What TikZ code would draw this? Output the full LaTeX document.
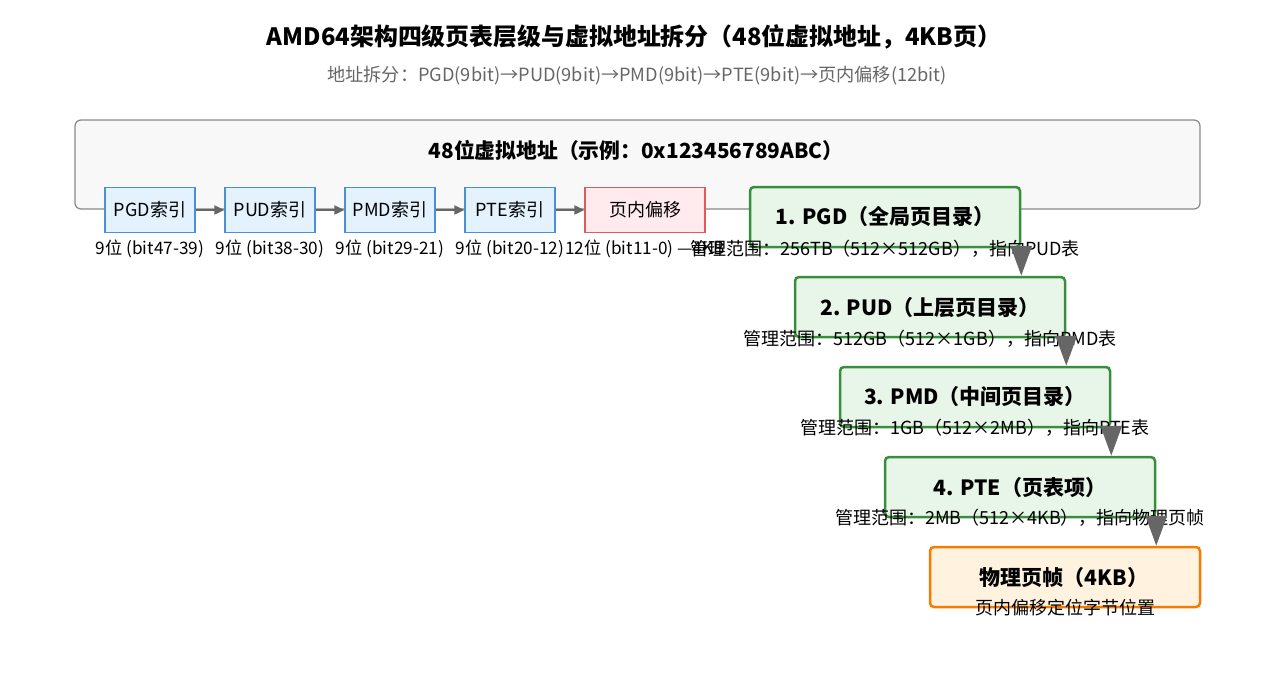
\documentclass[tikz,border=0pt]{standalone}
\usepackage{fontspec}
\setmainfont{Noto Sans CJK SC}
\usetikzlibrary{arrows.meta}
\definecolor{contfill}{HTML}{F8F8F8}
\definecolor{contline}{HTML}{888888}
\definecolor{idxfill}{HTML}{E3F2FD}
\definecolor{idxline}{HTML}{4A90D9}
\definecolor{offfill}{HTML}{FFEBEE}
\definecolor{offline}{HTML}{E05A5A}
\definecolor{lvlfill}{HTML}{E8F5E9}
\definecolor{lvlline}{HTML}{388E3C}
\definecolor{physfill}{HTML}{FFF3E0}
\definecolor{physline}{HTML}{F57C00}
\definecolor{arrgray}{HTML}{666666}
\definecolor{subgray}{HTML}{666666}
\tikzset{
  idxbox/.style={draw=idxline, fill=idxfill, line width=1.2pt, minimum width=90pt, minimum height=45pt, inner sep=0pt, font=\fontsize{18}{21}\selectfont},
  offbox/.style={draw=offline, fill=offfill, line width=1.2pt, minimum width=120pt, minimum height=45pt, inner sep=0pt, font=\fontsize{18}{21}\selectfont},
  lvlbox/.style={draw=lvlline, fill=lvlfill, line width=2.5pt, rounded corners=4pt, minimum width=270pt, minimum height=60pt, inner sep=0pt},
  physbox/.style={draw=physline, fill=physfill, line width=2.5pt, rounded corners=4pt, minimum width=270pt, minimum height=60pt, inner sep=0pt},
  lvltitle/.style={font=\fontsize{21}{25}\selectfont\bfseries, inner sep=0pt},
  lvlnote/.style={font=\fontsize{18}{21}\selectfont, inner sep=0pt},
  bitnote/.style={font=\fontsize{17.2}{20}\selectfont, inner sep=0pt},
  smallarr/.style={draw=arrgray, line width=1.8pt, -{Triangle[width=9pt,length=10pt]}},
  bigarr/.style={draw=arrgray, line width=3pt, -{Triangle[width=21pt,length=30pt]}}
}
\begin{document}
\begin{tikzpicture}[x=1pt,y=-1pt]
\useasboundingbox (0,0) rectangle (1275,675);
% title
\node[font=\fontsize{23.9}{28}\selectfont\bfseries, inner sep=0pt] (title) at (634,37) {AMD64架构四级页表层级与虚拟地址拆分（48位虚拟地址，4KB页）};
\node[font=\fontsize{18.2}{21}\selectfont, text=subgray, inner sep=0pt] (subtitle) at (637,76) {地址拆分：PGD(9bit)→PUD(9bit)→PMD(9bit)→PTE(9bit)→页内偏移(12bit)};
% container
\node[draw=contline, fill=contfill, line width=1.2pt, rounded corners=6pt, minimum width=1125pt, minimum height=89pt, inner sep=0pt] (cont) at (637.5,164.5) {};
\node[font=\fontsize{20.8}{24}\selectfont\bfseries, inner sep=0pt] (conttitle) at (636,150) {48位虚拟地址（示例：0x123456789ABC）};
% index boxes
\node[idxbox] (pgdi) at (150,210) {PGD索引};
\node[idxbox] (pudi) at (270,210) {PUD索引};
\node[idxbox] (pmdi) at (390,210) {PMD索引};
\node[idxbox] (ptei) at (510,210) {PTE索引};
\node[offbox] (offi) at (645,210) {页内偏移};
\draw[smallarr] (pgdi.east) -- (pudi.west);
\draw[smallarr] (pudi.east) -- (pmdi.west);
\draw[smallarr] (pmdi.east) -- (ptei.west);
\draw[smallarr] (ptei.east) -- (offi.west);
\node[bitnote] (b1) at (150,249) {9位 (bit47-39)};
\node[bitnote] (b2) at (270,249) {9位 (bit38-30)};
\node[bitnote] (b3) at (390,249) {9位 (bit29-21)};
\node[bitnote] (b4) at (510,249) {9位 (bit20-12)};
\node[bitnote] (b5) at (645,249) {12位 (bit11-0) —4KB};
% levels
\node[lvlbox] (pgd) at (885,217) {};
\node[lvltitle] at (885,217) {1. PGD（全局页目录）};
\node[lvlnote] (pgdn) at (885,249) {管理范围：256TB（512×512GB），指向PUD表};
\node[lvlbox] (pud) at (930,307) {};
\node[lvltitle] at (930,308) {2. PUD（上层页目录）};
\node[lvlnote] (pudn) at (930,339) {管理范围：512GB（512×1GB），指向PMD表};
\node[lvlbox] (pmd) at (975,397) {};
\node[lvltitle] at (975,397) {3. PMD（中间页目录）};
\node[lvlnote] (pmdn) at (975,428) {管理范围：1GB（512×2MB），指向PTE表};
\node[lvlbox] (pte) at (1020,487) {};
\node[lvltitle] at (1020,488) {4. PTE（页表项）};
\node[lvlnote] (pten) at (1020,518) {管理范围：2MB（512×4KB），指向物理页帧};
\node[physbox] (phys) at (1065,577) {};
\node[lvltitle] at (1064,578) {物理页帧（4KB）};
\node[lvlnote] (physn) at (1065,608) {页内偏移定位字节位置};
% big arrows
\draw[bigarr] (pgd.south east) -- (pgd.south east |- pud.north);
\draw[bigarr] (pud.south east) -- (pud.south east |- pmd.north);
\draw[bigarr] (pmd.south east) -- (pmd.south east |- pte.north);
\draw[bigarr] (pte.south east) -- (pte.south east |- phys.north);
\end{tikzpicture}
\end{document}
